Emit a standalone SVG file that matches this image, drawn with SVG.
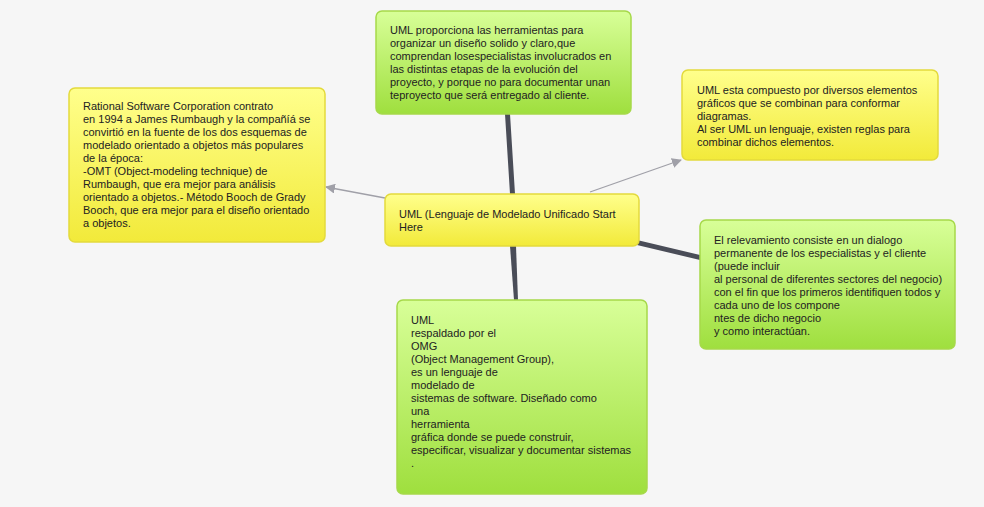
<svg xmlns="http://www.w3.org/2000/svg" width="984" height="507" viewBox="0 0 984 507">
<defs>
<linearGradient id="gy" x1="0" y1="0" x2="0" y2="1"><stop offset="0" stop-color="#ffff8c"/><stop offset="1" stop-color="#f2ea3a"/></linearGradient>
<linearGradient id="gg" x1="0" y1="0" x2="0" y2="1"><stop offset="0" stop-color="#d8ff98"/><stop offset="1" stop-color="#9fdf3e"/></linearGradient>
<marker id="ar" markerWidth="10" markerHeight="10" refX="9" refY="5" orient="auto" markerUnits="userSpaceOnUse"><path d="M0,0 L10,5 L0,10 Z" fill="#a0a0a8"/></marker>
<style>
.y{fill:url(#gy);stroke:#e3da3c;stroke-width:1.5}
.g{fill:url(#gg);stroke:#a6d94a;stroke-width:1.5}
text{font-family:"Liberation Sans",Arial,sans-serif;font-size:11px;fill:#222}
.thin{stroke:#a0a0a8;stroke-width:1.3;fill:none}
.thick{fill:#4a4d58}
</style>
</defs>
<rect width="984" height="507" fill="#f6f6f6"/>
<g id="connectors">
<polygon class="thick" points="505,114 510,114 515,194 510,194"/>
<polygon class="thick" points="510,246 516,246 518,300 514,300"/>
<polygon class="thick" points="637,240 700,255 700,260 637,245"/>
<line class="thin" x1="385" y1="198" x2="326" y2="187" marker-end="url(#ar)"/>
<line class="thin" x1="590" y1="192" x2="681" y2="160" marker-end="url(#ar)"/>
</g>
<g id="top">
<rect class="g" x="376" y="11" width="255" height="103" rx="6"/>
<text x="390" y="34">UML proporciona las herramientas para</text>
<text x="390" y="47">organizar un diseño solido y claro,que</text>
<text x="390" y="60">comprendan losespecialistas involucrados en</text>
<text x="390" y="73">las distintas etapas de la evolución del</text>
<text x="390" y="86">proyecto, y porque no para documentar unan</text>
<text x="390" y="99">teproyecto que será entregado al cliente.</text>
</g>
<g id="left">
<rect class="y" x="69" y="88" width="256" height="154" rx="6"/>
<text x="83" y="110">Rational Software Corporation contrato</text>
<text x="83" y="123">en 1994 a James Rumbaugh y la compañíá se</text>
<text x="83" y="136">convirtió en la fuente de los dos esquemas de</text>
<text x="83" y="149">modelado orientado a objetos más populares</text>
<text x="83" y="162">de la época:</text>
<text x="83" y="175">-OMT (Object-modeling technique) de</text>
<text x="83" y="188">Rumbaugh, que era mejor para análisis</text>
<text x="83" y="201">orientado a objetos.- Método Booch de Grady</text>
<text x="83" y="214">Booch, que era mejor para el diseño orientado</text>
<text x="83" y="227">a objetos.</text>
</g>
<g id="rightTop">
<rect class="y" x="682" y="70" width="256" height="90" rx="6"/>
<text x="697" y="94">UML esta compuesto por diversos elementos</text>
<text x="697" y="107">gráficos que se combinan para conformar</text>
<text x="697" y="120">diagramas.</text>
<text x="697" y="133">Al ser UML un lenguaje, existen reglas para</text>
<text x="697" y="146">combinar dichos elementos.</text>
</g>
<g id="rightBottom">
<rect class="g" x="700" y="220" width="255" height="129" rx="6"/>
<text x="714" y="244">El relevamiento consiste en un dialogo</text>
<text x="714" y="257">permanente de los especialistas y el cliente</text>
<text x="714" y="270">(puede incluir</text>
<text x="714" y="283">al personal de diferentes sectores del negocio)</text>
<text x="714" y="296">con el fin que los primeros identifiquen todos y</text>
<text x="714" y="309">cada uno de los compone</text>
<text x="714" y="322">ntes de dicho negocio</text>
<text x="714" y="335">y como interactúan.</text>
</g>
<g id="bottom">
<rect class="g" x="397" y="300" width="250" height="194" rx="6"/>
<text x="411" y="324">UML</text>
<text x="411" y="337">respaldado por el</text>
<text x="411" y="350">OMG</text>
<text x="411" y="363">(Object Management Group),</text>
<text x="411" y="376">es un lenguaje de</text>
<text x="411" y="389">modelado de</text>
<text x="411" y="402">sistemas de software. Diseñado como</text>
<text x="411" y="415">una</text>
<text x="411" y="428">herramienta</text>
<text x="411" y="441">gráfica donde se puede construir,</text>
<text x="411" y="454">especificar, visualizar y documentar sistemas</text>
<text x="411" y="467">.</text>
</g>
<g id="center">
<rect class="y" x="385" y="194" width="254" height="52" rx="6"/>
<text x="399" y="218">UML (Lenguaje de Modelado Unificado Start</text>
<text x="399" y="231">Here</text>
</g>
</svg>
